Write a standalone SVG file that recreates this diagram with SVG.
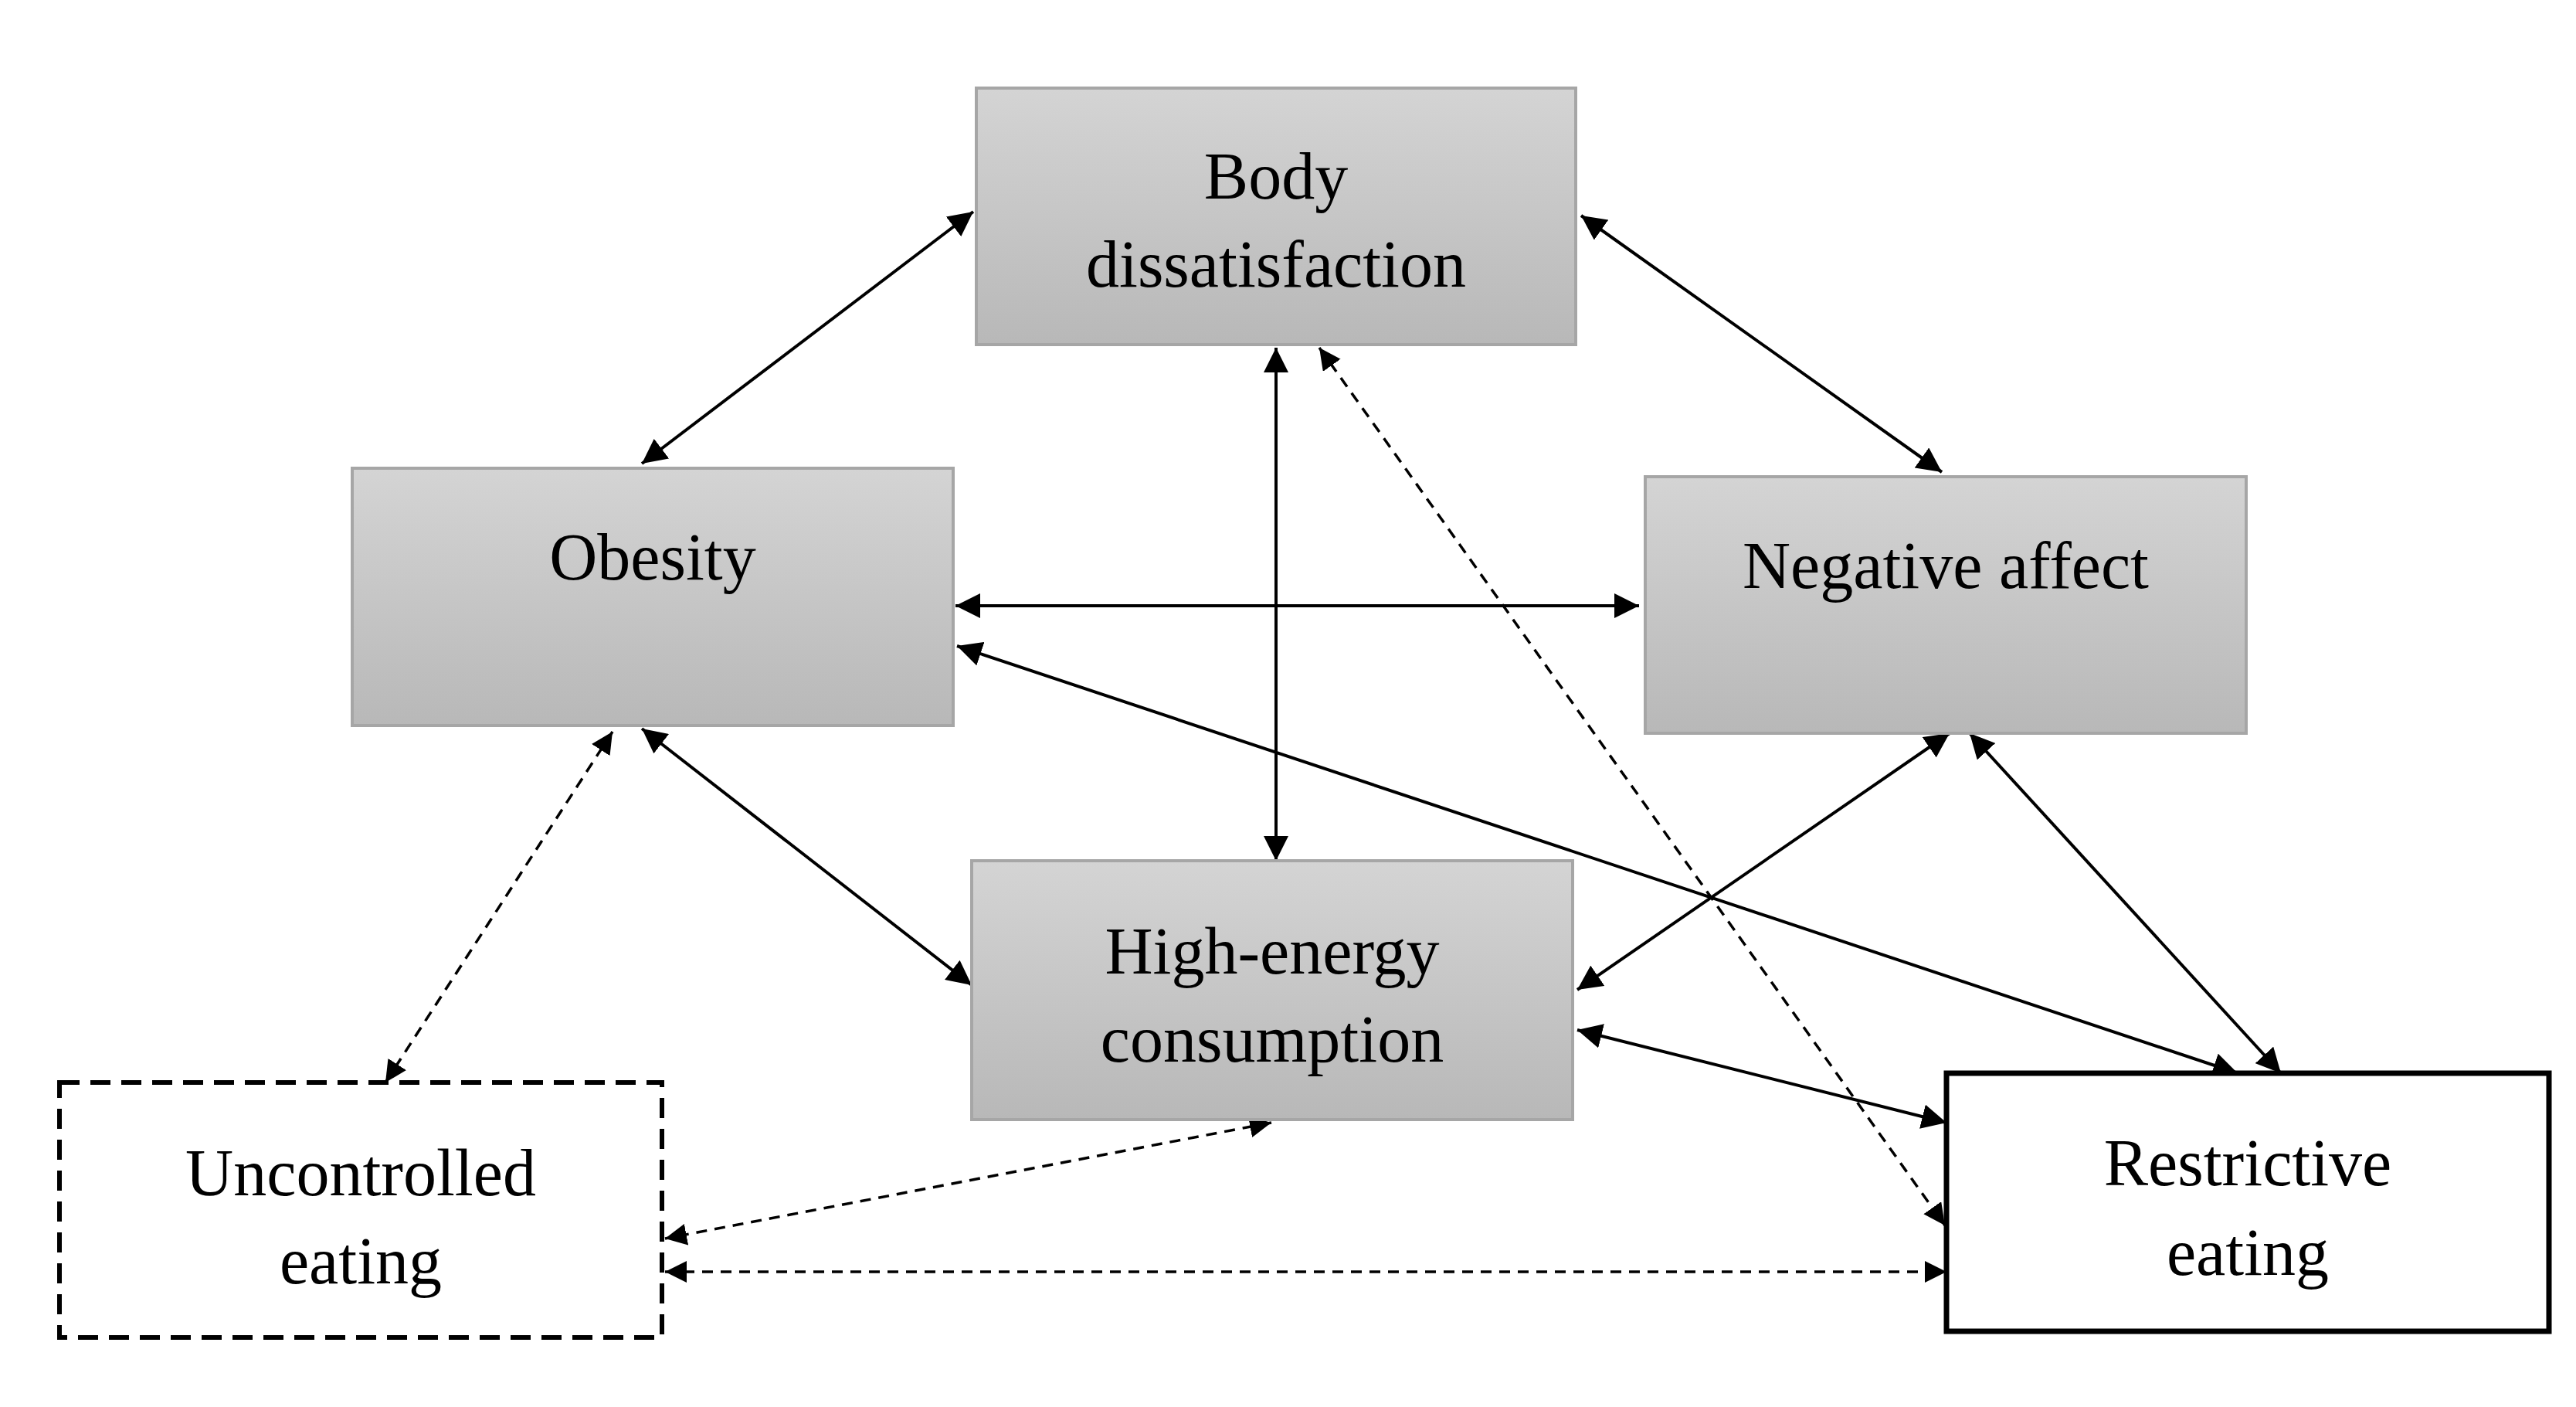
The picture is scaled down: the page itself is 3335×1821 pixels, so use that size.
<svg xmlns="http://www.w3.org/2000/svg" width="3335" height="1821" viewBox="0 0 3335 1821">
<style>
.g{fill:url(#gr);stroke:#a6a6a6;stroke-width:4}
.t{font-family:"Liberation Serif",serif;font-size:86px;fill:#000;text-anchor:middle}
.c{stroke:#000;stroke-width:4;fill:none;marker-start:url(#a);marker-end:url(#a)}
.d{stroke-dasharray:14 10;stroke-width:3.5}
</style>
<defs>
<linearGradient id="gr" x1="0" y1="0" x2="0" y2="1"><stop offset="0" stop-color="#d4d4d4"/><stop offset="1" stop-color="#b8b8b8"/></linearGradient>
<marker id="a" viewBox="0 0 10 10" refX="10" refY="5" markerWidth="8" markerHeight="8" orient="auto-start-reverse" markerUnits="strokeWidth"><path d="M0,0L10,5L0,10z" fill="#000"/></marker>
</defs>
<rect width="3335" height="1821" fill="#fff"/>
<g id="connectors">
<line class="c" x1="1260" y1="274" x2="831" y2="600"/>
<line class="c" x1="2047" y1="279" x2="2514" y2="611"/>
<line class="c" x1="1652" y1="450" x2="1652" y2="1114"/>
<line class="c d" x1="1708" y1="450" x2="2518" y2="1586"/>
<line class="c" x1="1237" y1="784" x2="2122" y2="784"/>
<line class="c" x1="1239" y1="836" x2="2897" y2="1389"/>
<line class="c" x1="831" y1="943" x2="1258" y2="1275"/>
<line class="c d" x1="793" y1="947" x2="499" y2="1401"/>
<line class="c" x1="2524" y1="949" x2="2042" y2="1281"/>
<line class="c" x1="2550" y1="949" x2="2953" y2="1389"/>
<line class="c" x1="2042" y1="1333" x2="2520" y2="1453"/>
<line class="c d" x1="1646" y1="1453" x2="861" y2="1603"/>
<line class="c d" x1="861" y1="1646" x2="2520" y2="1646"/>
</g>
<g id="body"><rect class="g" x="1264" y="114" width="776" height="332"/><text class="t" x="1652" y="257">Body</text><text class="t" x="1652" y="371">dissatisfaction</text></g>
<g id="obesity"><rect class="g" x="456" y="606" width="778" height="333"/><text class="t" x="845" y="750">Obesity</text></g>
<g id="negative"><rect class="g" x="2130" y="617" width="778" height="332"/><text class="t" x="2519" y="761">Negative affect</text></g>
<g id="high"><rect class="g" x="1258" y="1114" width="778" height="335"/><text class="t" x="1647" y="1260">High-energy</text><text class="t" x="1647" y="1374">consumption</text></g>
<g id="uncontrolled"><rect x="77" y="1401" width="780" height="330" fill="#fff" stroke="#000" stroke-width="6" stroke-dasharray="26 14"/><text class="t" x="467" y="1547">Uncontrolled</text><text class="t" x="467" y="1661">eating</text></g>
<g id="restrictive"><rect x="2520" y="1389" width="780" height="334" fill="#fff" stroke="#000" stroke-width="7"/><text class="t" x="2910" y="1534">Restrictive</text><text class="t" x="2910" y="1650">eating</text></g>
</svg>
